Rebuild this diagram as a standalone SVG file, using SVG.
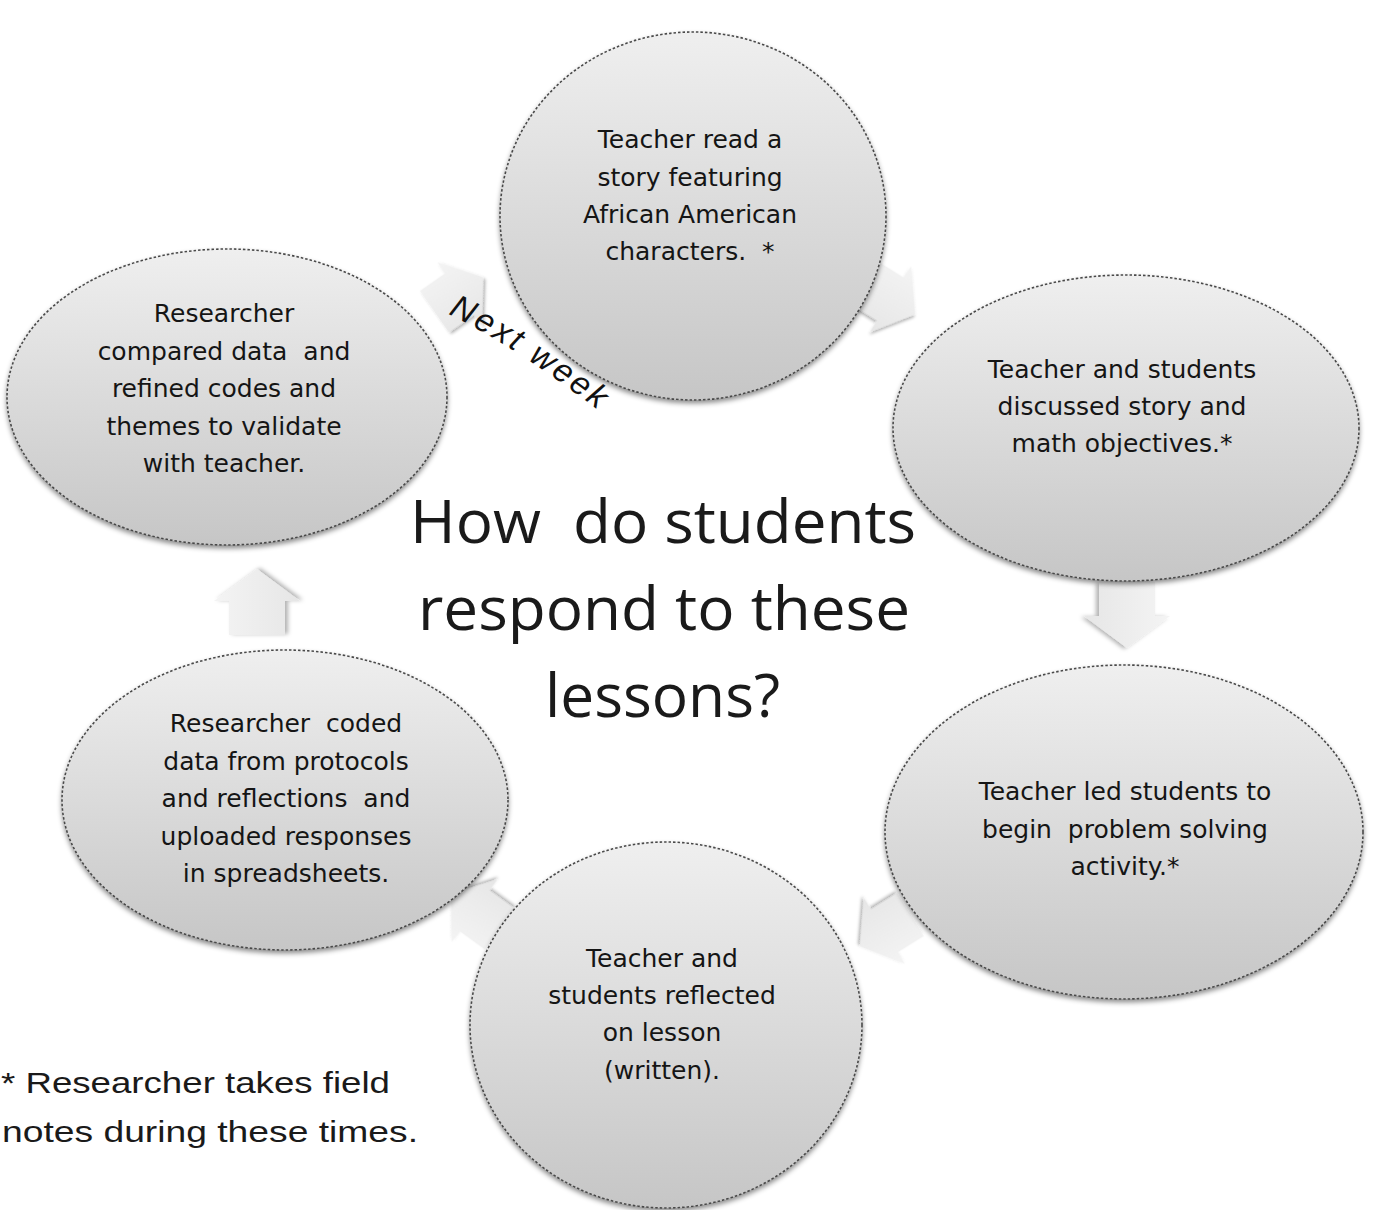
<svg xmlns="http://www.w3.org/2000/svg" width="1377" height="1210" viewBox="0 0 1377 1210">
<defs>
<linearGradient id="eg" x1="0" y1="0" x2="0" y2="1">
<stop offset="0" stop-color="#efefef"/>
<stop offset="1" stop-color="#c6c6c6"/>
</linearGradient>
<linearGradient id="ag" x1="0" y1="0" x2="0" y2="1">
<stop offset="0" stop-color="#f4f4f4"/>
<stop offset="1" stop-color="#e6e6e6"/>
</linearGradient>
<filter id="sh" x="-10%" y="-10%" width="120%" height="125%">
<feDropShadow dx="0" dy="3" stdDeviation="2.5" flood-color="#000" flood-opacity="0.45"/>
</filter>
<filter id="ash" x="-30%" y="-30%" width="160%" height="160%">
<feDropShadow dx="1" dy="3" stdDeviation="2" flood-color="#000" flood-opacity="0.3"/>
</filter>
<path id="arr" d="M-32,-28 L2,-28 L2,-43 L34,0 L2,43 L2,28 L-32,28 Z"/>
<path id="nwpath" d="M448,314 Q516,346 608,418"/>
</defs>
<style>
.node ellipse{fill:url(#eg);stroke:#4a4a4a;stroke-width:1.6;stroke-dasharray:2.5 2;filter:url(#sh)}
.node text{font-family:"DejaVu Sans",Verdana,sans-serif;font-size:25px;fill:#151515;text-anchor:middle}
.arrow{fill:url(#ag);filter:url(#ash)}
.title{font-family:"Open Sans","Liberation Sans",sans-serif;font-size:60px;fill:#1a1a1a}
.note{font-family:"Liberation Sans",Arial,sans-serif;font-size:30px;fill:#1a1a1a}
.nw{font-family:"Liberation Sans",Arial,sans-serif;font-style:italic;font-size:33px;fill:#111;letter-spacing:3px}
</style>
<rect width="1377" height="1210" fill="#ffffff"/>

<g id="connectors">
<use href="#arr" class="arrow" transform="translate(458,295) rotate(-35) scale(0.9)"/>
<use href="#arr" class="arrow" transform="translate(889,298) rotate(32) scale(0.9)"/>
<use href="#arr" class="arrow" transform="translate(1127,614) rotate(90)"/>
<use href="#arr" class="arrow" transform="translate(886,930) rotate(148) scale(0.9)"/>
<use href="#arr" class="arrow" transform="translate(476,912) rotate(216) scale(0.9)"/>
<use href="#arr" class="arrow" transform="translate(257,603) rotate(-90)"/>
</g>

<g id="node-top" class="node">
<ellipse cx="693" cy="216" rx="193" ry="184"/>
<text x="690" y="148">Teacher read a</text>
<text x="690" y="186">story featuring</text>
<text x="690" y="223">African American</text>
<text x="690" y="260" xml:space="preserve">characters.  *</text>
</g>

<g id="node-topright" class="node">
<ellipse cx="1126" cy="428" rx="233" ry="153"/>
<text x="1122" y="378">Teacher and students</text>
<text x="1122" y="415">discussed story and</text>
<text x="1122" y="452">math objectives.*</text>
</g>

<g id="node-bottomright" class="node">
<ellipse cx="1124" cy="832" rx="239" ry="167"/>
<text x="1125" y="800">Teacher led students to</text>
<text x="1125" y="838" xml:space="preserve">begin  problem solving</text>
<text x="1125" y="875">activity.*</text>
</g>

<g id="node-bottom" class="node">
<ellipse cx="666" cy="1025" rx="196" ry="183"/>
<text x="662" y="967">Teacher and</text>
<text x="662" y="1004">students reflected</text>
<text x="662" y="1041">on lesson</text>
<text x="662" y="1079">(written).</text>
</g>

<g id="node-bottomleft" class="node">
<ellipse cx="285" cy="800" rx="223" ry="150"/>
<text x="286" y="732" xml:space="preserve">Researcher  coded</text>
<text x="286" y="770">data from protocols</text>
<text x="286" y="807" xml:space="preserve">and reflections  and</text>
<text x="286" y="845">uploaded responses</text>
<text x="286" y="882">in spreadsheets.</text>
</g>

<g id="node-topleft" class="node">
<ellipse cx="227" cy="397" rx="220" ry="148"/>
<text x="224" y="322">Researcher</text>
<text x="224" y="360" xml:space="preserve">compared data  and</text>
<text x="224" y="397">refined codes and</text>
<text x="224" y="435">themes to validate</text>
<text x="224" y="472">with teacher.</text>
</g>

<g id="next-week-label">
<text class="nw"><textPath href="#nwpath">Next week</textPath></text>
</g>

<g id="title">
<text class="title" x="410" y="543" textLength="506" lengthAdjust="spacingAndGlyphs" xml:space="preserve">How  do students</text>
<text class="title" x="418" y="630" textLength="492" lengthAdjust="spacingAndGlyphs">respond to these</text>
<text class="title" x="545" y="717" textLength="235" lengthAdjust="spacingAndGlyphs">lessons?</text>
</g>

<g id="footnote">
<text class="note" x="1" y="1093" textLength="389" lengthAdjust="spacingAndGlyphs">* Researcher takes field</text>
<text class="note" x="2" y="1142" textLength="416" lengthAdjust="spacingAndGlyphs">notes during these times.</text>
</g>
</svg>
